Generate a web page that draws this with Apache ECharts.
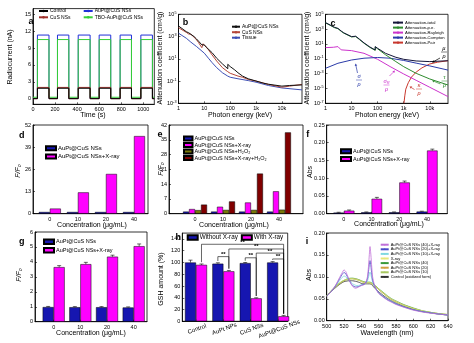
<!DOCTYPE html>
<html>
<head>
<meta charset="utf-8">
<script src="https://cdn.jsdelivr.net/npm/echarts@6.0.0/dist/echarts.min.js"></script>
<style>
html,body{margin:0;padding:0;background:#fff;}
#chart{width:474px;height:343px;}
</style>
</head>
<body>
<div id="chart"></div>
<script>
// ================= DATA =================
// (a) Radiocurrent: X-ray on/off switching times (s) and current levels (nA)
const aOnStart = [40, 222, 410, 600, 790, 978];
const aOnEnd   = [145, 325, 518, 705, 893, 1083];
const aNames   = ['AuPt@CuS NSs', 'TBO-AuPt@CuS NSs', 'CuS NSs', 'Control'];
const aOffLevel = [0.05, 0.25, 0.0, 0.0];
const aOnLevel  = [11.3, 10.5, 2.0, 1.85];
const aTimeEnd = 1100;
const aYTicks = [0, 3, 6, 9, 12, 15];
const aXTicks = [0, 200, 400, 600, 800, 1000];

// (b) Attenuation coefficient (cm2/g) vs photon energy (keV)
const bAuPtE = [1,1.5,2,2.2,2.2,2.5,3,3.4,3.4,4,5,6,8,8.98,8.98,10,11.9,11.9,14,20,30,50,80.7,80.7,100,150,200,300,500,1000,2000,3000,5000,10000,20000,60000];
const bAuPtV = [8900,4500,2750,2400,2800,2150,1600,1320,1580,1000,600,380,178,132,224,178,112,158,112,35,11.2,3.5,1.26,3.2,2.0,1.0,0.56,0.28,0.16,0.1,0.063,0.052,0.044,0.035,0.04,0.045];
const bCuSE = [1,1.5,2,2.47,2.47,3,4,5,6,8,8.98,8.98,10,14,20,30,50,80,100,200,300,500,1000,3000,10000,20000,60000];
const bCuSV = [6300,3550,2400,1700,2240,1580,890,500,280,100,71,224,178,71,22,6.3,1.6,0.7,0.5,0.28,0.22,0.14,0.1,0.05,0.028,0.035,0.05];
const bTisE = [1,2,3,5,10,15,20,30,50,80,100,200,500,1000,3000,10000,60000];
const bTisV = [2000,710,316,126,32,10,4.5,1.6,0.56,0.28,0.22,0.16,0.11,0.079,0.04,0.024,0.016];
const logYTicksB = [1e-3, 1e-1, 10, 1e3, 1e5];
const logXTicks = [1, 10, 100, 1000, 10000];

// (c) Attenuation components of Au
const cTotE = [1,1.5,2.2,2.2,2.5,3,3.4,3.4,4,5,10,11.9,11.9,14.4,20,30,50,80.7,80.7,100,200,500,1000,3000,10000,50000];
const cTotV = [7600,3630,1780,2240,1780,1260,1000,1260,560,320,98,63,158,110,45,14,4,1.55,4.4,2.6,0.55,0.16,0.085,0.051,0.042,0.055];
const cPeE = [1,1.5,2.2,2.2,2.5,3,3.4,3.4,4,5,10,11.9,11.9,14.4,20,30,50,80.7,80.7,100,200,500,1000,3000,10000,50000];
const cPeV = [7000,3300,1600,2050,1620,1150,900,1150,500,290,88,57,145,100,40,12.5,3.5,1.35,4.0,2.2,0.35,0.042,0.0087,0.0011,1.9e-4,2.95e-5];
const cRayE = [1,2,3,3.5,4,10,30,100,300,1000,3000,10000,50000];
const cRayV = [3.2,3.6,4.4,4.4,1.6,1.26,0.55,0.085,0.009,9e-4,1.26e-4,1.45e-5,8e-7];
const cComE = [1,3,10,30,100,300,1000,3000,10000,50000];
const cComV = [0.0052,0.025,0.069,0.12,0.15,0.12,0.06,0.026,0.011,0.003];
const cPairE = [1022,1100,1200,1500,2000,3000,5000,10000,20000,50000];
const cPairV = [1e-7,1e-6,8e-6,6e-5,3.5e-4,1.6e-3,6e-3,0.02,0.035,0.055];
const logYTicksC = [1e-7, 1e-5, 1e-3, 1e-1, 10, 1e3, 1e5];

// (d)-(g) concentration series
const concCats = ['0', '10', '20', '40'];
const dBlue = [1.0, 1.0, 1.0, 1.0];
const dMag  = [3.0, 12.5, 23.3, 45.5];
const eBlue  = [1.0, 1.0, 1.0, 1.0];
const eMag   = [2.2, 3.3, 5.3, 10.6];
const eOlive = [1.7, 1.8, 1.8, 1.9];
const eRed   = [4.3, 5.8, 19.0, 38.5];
const fBlue = [0.003, 0.004, 0.004, 0.006];
const fBlueErr = [0.001, 0.001, 0.001, 0.001];
const fMag = [0.0085, 0.042, 0.088, 0.178];
const fMagErr = [0.002, 0.004, 0.004, 0.004];
const gBlue = [0.98, 0.97, 0.97, 0.95];
const gBlueErr = [0.04, 0.04, 0.04, 0.04];
const gMag = [3.65, 3.85, 4.35, 5.05];
const gMagErr = [0.10, 0.12, 0.10, 0.15];

// (h) GSH amount (%)
const hCats = ['Control', 'AuPt NPs', 'CuS NSs', 'AuPt@CuS NSs'];
const hWithout = [100, 98, 99, 100];
const hWithoutErr = [4, 1.5, 1, 1.5];
const hWith = [96, 85, 39, 8.5];
const hWithErr = [1.5, 1.5, 1, 1.5];
const hYTicks = [0, 20, 40, 60, 80, 100, 120, 140];
// significance brackets: [fromCat, fromBar(0=without,1=with), toCat, toBar, level(%)]
const hSig = [[0,1,3,1,131],[1,1,3,1,123],[2,1,3,1,116],[1,0,1,1,110],[2,0,2,1,108],[3,0,3,1,106]];

// (i) absorbance spectra
const iWl = [500,505,510,515,518,520,522,525,528,530,533,535,538,540,543,545,547,548,549,550,551,552,553,555,558,560,565,570,575,580,590,600,610,620,630,640];
const i40X = [0.056,0.066,0.080,0.099,0.110,0.116,0.112,0.098,0.084,0.078,0.074,0.075,0.078,0.080,0.082,0.086,0.100,0.118,0.145,0.169,0.150,0.122,0.100,0.082,0.068,0.062,0.054,0.047,0.042,0.037,0.030,0.024,0.020,0.017,0.015,0.013];
const i20X = [0.056,0.066,0.079,0.096,0.106,0.110,0.107,0.096,0.085,0.080,0.077,0.077,0.079,0.081,0.083,0.086,0.096,0.108,0.125,0.137,0.125,0.106,0.092,0.080,0.069,0.063,0.055,0.048,0.043,0.038,0.031,0.025,0.021,0.018,0.015,0.013];
const i10X = [0.056,0.066,0.078,0.092,0.099,0.102,0.100,0.094,0.088,0.084,0.081,0.080,0.081,0.082,0.083,0.085,0.090,0.097,0.105,0.111,0.105,0.096,0.088,0.079,0.070,0.064,0.056,0.049,0.044,0.039,0.031,0.025,0.021,0.018,0.015,0.013];
const iXray = [0.057,0.068,0.078,0.086,0.090,0.092,0.094,0.095,0.096,0.096,0.095,0.094,0.092,0.090,0.088,0.087,0.087,0.087,0.087,0.087,0.086,0.085,0.084,0.081,0.076,0.072,0.064,0.056,0.049,0.044,0.035,0.028,0.023,0.019,0.016,0.014];
const i40 = [0.057,0.068,0.078,0.086,0.090,0.092,0.094,0.096,0.097,0.097,0.096,0.095,0.093,0.091,0.089,0.088,0.088,0.088,0.088,0.088,0.087,0.086,0.085,0.082,0.077,0.073,0.065,0.057,0.050,0.045,0.036,0.029,0.023,0.019,0.016,0.014];
const i20 = [0.056,0.067,0.077,0.085,0.089,0.091,0.093,0.095,0.096,0.096,0.095,0.094,0.092,0.090,0.088,0.087,0.087,0.087,0.087,0.086,0.086,0.085,0.084,0.080,0.075,0.071,0.063,0.055,0.048,0.043,0.035,0.028,0.022,0.019,0.016,0.014];
const i10 = [0.056,0.067,0.077,0.085,0.089,0.091,0.093,0.094,0.095,0.095,0.094,0.093,0.091,0.089,0.087,0.086,0.086,0.086,0.086,0.086,0.085,0.084,0.083,0.080,0.075,0.071,0.063,0.055,0.048,0.043,0.034,0.028,0.022,0.018,0.015,0.013];
const iCtrl = [0.056,0.066,0.075,0.083,0.087,0.089,0.090,0.091,0.091,0.091,0.090,0.089,0.087,0.085,0.084,0.084,0.084,0.084,0.084,0.084,0.083,0.082,0.080,0.075,0.070,0.066,0.058,0.051,0.045,0.040,0.032,0.026,0.021,0.018,0.015,0.013];

// ================= LAYOUT / STYLE =================
const FF = "'Liberation Sans', Arial, sans-serif";
const TF = 5.5;
const BLUE = '#1616b0', MAG = '#ff00ff', OLIVE = '#7a7a08', DRED = '#800000';
const R = { // plot rectangles [x1,y1,x2,y2]
  a: [33, 8.6, 154.3, 104.3],
  b: [178.5, 14.3, 302, 103.3],
  c: [325.5, 14.3, 448, 103.3],
  d: [33, 125, 148, 213.7],
  e: [169, 125, 303, 213.7],
  f: [326.7, 125, 447.3, 213.7],
  g: [35, 232, 147, 321.7],
  h: [182.3, 233.1, 287.7, 321.3],
  i: [326.7, 233, 448, 320.7]
};
const order = ['a','b','c','d','e','f','g','h','i'];
const grids = order.map(k => {
  const [x1,y1,x2,y2] = R[k];
  return {left:x1, top:y1, width:x2-x1, height:y2-y1, show:true, borderColor:'#000', borderWidth:0.8,
          backgroundColor:'rgba(0,0,0,0)', containLabel:false, outerBoundsMode:'none'};
});

function axis(gi, o) {
  const ax = {
    type: o.type || 'value', gridIndex: gi, min: o.min, max: o.max,
    axisLine: {show:true, onZero:false, lineStyle:{color:'#000', width:0.8}},
    axisTick: {show:true, inside:true, length:2, lineStyle:{color:'#000', width:0.6}},
    axisLabel: {show:true, color:'#000', fontSize:TF, fontFamily:FF, margin:2, formatter: v => String(v)},
    splitLine: {show:false}, minorTick: {show:false}
  };
  if (o.logBase) ax.logBase = o.logBase;
  if (o.interval != null) ax.interval = o.interval;
  if (o.custom) { ax.axisLabel.customValues = o.custom; ax.axisTick.customValues = o.custom; }
  if (o.fmt) ax.axisLabel.formatter = o.fmt;
  if (o.rich) ax.axisLabel.rich = o.rich;
  if (o.label) Object.assign(ax.axisLabel, o.label);
  return ax;
}
const kFmt = v => { const e = Math.round(Math.log10(v)); return ['1','10','100','1k','10k','100k'][e] || ''; };
const powFmt = v => '10{s|' + Math.round(Math.log10(v)) + '}';
const powRich = {s:{fontSize:3.8, fontFamily:FF, color:'#000', verticalAlign:'top', padding:[0,0,3,0]}};
const catFmt = cats => v => cats[Math.round(v)];
const fix2 = v => v.toFixed(2);
const barIdx = [0,1,2,3];

const xAxes = [
  axis(0, {min:0, max:aTimeEnd, custom:aXTicks}),
  axis(1, {type:'log', logBase:10, min:1, max:60000, custom:logXTicks, fmt:kFmt}),
  axis(2, {type:'log', logBase:10, min:1, max:50000, custom:logXTicks, fmt:kFmt}),
  axis(3, {min:-0.6, max:3.5, custom:barIdx, fmt:catFmt(concCats)}),
  axis(4, {min:-0.93, max:3.86, custom:barIdx, fmt:catFmt(concCats)}),
  axis(5, {min:-0.62, max:3.73, custom:barIdx, fmt:catFmt(concCats)}),
  axis(6, {min:-0.7, max:3.5, custom:barIdx, fmt:catFmt(concCats)}),
  axis(7, {min:-0.5, max:3.35, custom:barIdx, fmt:catFmt(hCats), label:{rotate:20, align:'center', verticalAlign:'top', margin:5, fontSize:6}}),
  axis(8, {min:500, max:640, interval:20})
];
const yAxes = [
  axis(0, {min:-1, max:16, custom:aYTicks}),
  axis(1, {type:'log', logBase:10, min:1e-3, max:1e5, custom:logYTicksB, fmt:powFmt, rich:powRich}),
  axis(2, {type:'log', logBase:10, min:1e-7, max:1e5, custom:logYTicksC, fmt:powFmt, rich:powRich}),
  axis(3, {min:0, max:52, interval:13}),
  axis(4, {min:0, max:42, interval:7}),
  axis(5, {min:0, max:0.25, interval:0.05, fmt:fix2}),
  axis(6, {min:0, max:6, interval:1}),
  axis(7, {min:0, max:150, custom:hYTicks}),
  axis(8, {min:0, max:0.2, interval:0.05, fmt:fix2})
];
xAxes.forEach(a => a.axisLabel.margin = (a.axisLabel.margin === 2 ? 2.5 : a.axisLabel.margin));

// ================= SERIES =================
const series = [];
function lineS(name, ax, data, color, w, extra) {
  series.push(Object.assign({name, type:'line', xAxisIndex:ax, yAxisIndex:ax, data, symbol:'none',
    lineStyle:{color, width:w}, itemStyle:{color}, animation:false, clip:true}, extra || {}));
}
function pairs(xs, ys) { return xs.map((x, i) => [x, ys[i]]); }

// (a) step waves
function squareWave(off, on) {
  const pts = [[0, off]];
  for (let k = 0; k < aOnStart.length; k++) {
    pts.push([aOnStart[k], off], [aOnStart[k], on], [aOnEnd[k], on], [aOnEnd[k], off]);
  }
  pts.push([aTimeEnd, off]);
  return pts;
}
const aColors = ['#2030d8', '#36d036', '#a0302a', '#000000'];
aNames.forEach((n, k) => lineS('a::' + n, 0, squareWave(aOffLevel[k], aOnLevel[k]), aColors[k], 1));

// (b)
lineS('b::Tissue', 1, pairs(bTisE, bTisV), '#3d4fb5', 1);
lineS('b::CuS NSs', 1, pairs(bCuSE, bCuSV), '#b5473a', 1);
lineS('b::AuPt@CuS NSs', 1, pairs(bAuPtE, bAuPtV), '#111111', 1);

// (c)
lineS('c::Attenuation-Pair', 2, pairs(cPairE, cPairV), '#c8372d', 1);
lineS('c::Attenuation-Rayleigh', 2, pairs(cRayE, cRayV), '#cc33cc', 1);
lineS('c::Attenuation-Compton', 2, pairs(cComE, cComV), '#2a3aa8', 1);
lineS('c::Attenuation-p.e.', 2, pairs(cPeE, cPeV), '#2e8b2e', 1);
lineS('c::Attenuation-total', 2, pairs(cTotE, cTotV), '#15153a', 1);

// bars
function barS(name, ax, vals, color, w) {
  series.push({name, type:'bar', xAxisIndex:ax, yAxisIndex:ax, data: vals.map((v, i) => [i, v]),
    barWidth:w, barGap:'0%', itemStyle:{color, borderColor:'#000', borderWidth:0.5}, animation:false});
}
function errS(ax, vals, errs, off) {
  series.push({type:'custom', xAxisIndex:ax, yAxisIndex:ax, z:5, silent:true, animation:false,
    data: vals.map((v, i) => [i, v, errs[i]]), encode:{x:0, y:1},
    renderItem: (p, api) => {
      const i = api.value(0), v = api.value(1), e = api.value(2);
      const top = api.coord([i, v + e]), base = api.coord([i, v]);
      const x = top[0] + off;
      return {type:'group', children:[
        {type:'line', shape:{x1:x, y1:base[1], x2:x, y2:top[1]}, style:{stroke:'#000', lineWidth:0.6}},
        {type:'line', shape:{x1:x-2, y1:top[1], x2:x+2, y2:top[1]}, style:{stroke:'#000', lineWidth:0.6}}
      ]};
    }});
}
// (d)
barS('d::AuPt@CuS NSs', 3, dBlue, BLUE, 11);
barS('d::AuPt@CuS NSs+X-ray', 3, dMag, MAG, 11);
// (e)
barS('e::AuPt@CuS NSs', 4, eBlue, BLUE, 6);
barS('e::AuPt@CuS NSs+X-ray', 4, eMag, MAG, 6);
barS('e::AuPt@CuS NSs+H₂O₂', 4, eOlive, OLIVE, 6);
barS('e::AuPt@CuS NSs+X-ray+H₂O₂', 4, eRed, DRED, 6);
// (f)
barS('f::AuPt@CuS NSs', 5, fBlue, BLUE, 10.5);
barS('f::AuPt@CuS NSs+X-ray', 5, fMag, MAG, 10.5);
errS(5, fBlue, fBlueErr, -5.25);
errS(5, fMag, fMagErr, 5.25);
// (g)
barS('g::AuPt@CuS NSs', 6, gBlue, BLUE, 11);
barS('g::AuPt@CuS NSs+X-ray', 6, gMag, MAG, 11);
errS(6, gBlue, gBlueErr, -5.5);
errS(6, gMag, gMagErr, 5.5);
// (h)
const hBW = 11;
barS('h::Without X-ray', 7, hWithout, BLUE, hBW);
barS('h::With X-ray', 7, hWith, MAG, hBW);
errS(7, hWithout, hWithoutErr, -hBW/2);
errS(7, hWith, hWithErr, hBW/2);
// (i)
const iSeries = [
  ['AuPt@CuS NSs (40)+X-ray', i40X, '#c070d8'],
  ['AuPt@CuS NSs (20)+X-ray', i20X, '#4a4ac8'],
  ['AuPt@CuS NSs (10)+X-ray', i10X, '#80d8e0'],
  ['X-ray', iXray, '#e6e67a'],
  ['AuPt@CuS NSs (40)', i40, '#3a9a3a'],
  ['AuPt@CuS NSs (20)', i20, '#d0a040'],
  ['AuPt@CuS NSs (10)', i10, '#a8c860'],
  ['Control (oxidized form)', iCtrl, '#303030']
];
iSeries.slice().reverse().forEach(s => lineS('i::' + s[0], 8, pairs(iWl, s[1]), s[2], 0.8, {smooth:0.2}));

// ================= LEGENDS =================
function leg(names, left, top, o) {
  return Object.assign({
    data: names, left, top, orient:'vertical', padding:0, selectedMode:false,
    itemWidth:o.iw, itemHeight:o.ih, itemGap:o.gap,
    formatter: n => n.split('::')[1],
    textStyle:{fontSize:o.fs, fontFamily:FF, color:'#000', padding:[0,0,0,o.tp || -3]},
    icon: o.icon
  }, o.extra || {});
}
const legends = [
  leg(['a::Control','a::CuS NSs'], 38, 8.5, {iw:9, ih:3, gap:1.3, fs:5}),
  leg(['a::AuPt@CuS NSs','a::TBO-AuPt@CuS NSs'], 82.7, 8.5, {iw:9, ih:3, gap:1.3, fs:5}),
  leg(['b::AuPt@CuS NSs','b::CuS NSs','b::Tissue'], 231, 24.2, {iw:8, ih:3, gap:0.5, fs:5}),
  leg(['c::Attenuation-total','c::Attenuation-p.e.','c::Attenuation-Rayleigh','c::Attenuation-Compton','c::Attenuation-Pair'], 392, 20.6, {iw:10, ih:3, gap:1, fs:4.2}),
  leg(['d::AuPt@CuS NSs','d::AuPt@CuS NSs+X-ray'], 45, 145.3, {iw:10, ih:4, gap:2.3, fs:6, icon:'rect'}),
  leg(['e::AuPt@CuS NSs','e::AuPt@CuS NSs+X-ray','e::AuPt@CuS NSs+H₂O₂','e::AuPt@CuS NSs+X-ray+H₂O₂'], 183, 135.5, {iw:8.5, ih:4, gap:0.5, fs:5.5, icon:'rect'}),
  leg(['f::AuPt@CuS NSs','f::AuPt@CuS NSs+X-ray'], 340, 148.2, {iw:10, ih:4, gap:1.8, fs:5.5, icon:'rect'}),
  leg(['g::AuPt@CuS NSs','g::AuPt@CuS NSs+X-ray'], 43, 238.5, {iw:10, ih:4.5, gap:1.9, fs:5.5, icon:'rect'}),
  leg(['h::Without X-ray','h::With X-ray'], 186.7, 234.2, {iw:10, ih:4.5, gap:3, fs:6.3, icon:'rect', extra:{orient:'horizontal'}}),
  leg(iSeries.map(s => 'i::' + s[0]), 379.7, 242.7, {iw:8, ih:2, gap:0.6, fs:4})
];

const chart = echarts.init(document.getElementById('chart'), null, {renderer:'canvas'});
chart.setOption({
  animation:false, backgroundColor:'#fff',
  textStyle:{fontFamily:FF},
  grid:grids, xAxis:xAxes, yAxis:yAxes, legend:legends, series
});

// ================= ANNOTATIONS =================
const G = [];
function txt(t, x, y, o) {
  o = o || {};
  G.push({type:'text', x, y, rotation:o.rot ? Math.PI/2 : 0, silent:true, z:50,
    style:{text:t, fill:o.color || '#000', fontSize:o.fs || 7, fontFamily:o.ff || FF,
      fontWeight:o.fw || 'normal', fontStyle:o.it ? 'italic' : 'normal',
      align:o.align || 'center', verticalAlign:o.va || 'middle', rich:o.rich}});
}
// axis titles
[
  ['Radiocurrent (nA)', 10, 57, 1], ['Time (s)', 93, 115, 0],
  ['Attenuation coefficient (cm²/g)', 160.5, 58, 1], ['Photon energy (keV)', 240, 115.5, 0],
  ['Attenuation coefficient (cm²/g)', 307.5, 58, 1], ['Photon energy (keV)', 387, 115.5, 0],
  ['Concentration (μg/mL)', 92, 225.3, 0], ['Concentration (μg/mL)', 234, 225.3, 0],
  ['Abs', 310, 172, 1], ['Concentration (μg/mL)', 389, 224.5, 0],
  ['Concentration (μg/mL)', 91, 333, 0], ['GSH amount (%)', 161, 279, 1],
  ['Abs', 309.5, 275, 1], ['Wavelength (nm)', 387, 333.5, 0]
].forEach(t => txt(t[0], t[1], t[2], {rot:t[3]}));
[[18, 171], [161.5, 169], [19, 275]].forEach(p => txt('F/F₀', p[0], p[1], {rot:1, it:1}));
// panel letters
[['a',31,22],['b',185.5,23],['c',333,23.3],['d',21.7,136],['e',160,135],['f',307.7,135],['g',21.7,242],['h',178.3,238],['i',307,241.5]]
  .forEach(l => txt(l[0], l[1], l[2], {fw:'bold', fs:9}));

// panel c fraction labels and arrows
function frac(x, y, num, color, rich) {
  G.push({type:'text', x, y:y-0.5, silent:true, z:50, style:{text:num, fill:color, fontSize:6.5, fontStyle:'italic', fontFamily:"'Liberation Serif', serif", align:'center', verticalAlign:'bottom', rich}});
  G.push({type:'line', silent:true, z:50, shape:{x1:x-3, y1:y, x2:x+3, y2:y}, style:{stroke:color, lineWidth:0.5}});
  G.push({type:'text', x, y:y+0.5, silent:true, z:50, style:{text:'ρ', fill:color, fontSize:6.5, fontStyle:'italic', fontFamily:"'Liberation Serif', serif", align:'center', verticalAlign:'top'}});
}
function arrow(x1, y1, x2, y2, color) {
  const a = Math.atan2(y2-y1, x2-x1), h = 2.4, w = 1.3;
  const bx = x2 - h*Math.cos(a), by = y2 - h*Math.sin(a);
  const px = -Math.sin(a)*w, py = Math.cos(a)*w;
  G.push({type:'line', silent:true, z:50, shape:{x1, y1, x2:bx, y2:by}, style:{stroke:color, lineWidth:0.7}});
  G.push({type:'polygon', silent:true, z:50, shape:{points:[[x2,y2],[bx+px,by+py],[bx-px,by-py]]}, style:{fill:color}});
}
frac(444, 52, 'μ', '#000');         arrow(440, 58, 432, 62.5, '#000');
frac(444.5, 81, 'τ', '#2e8b2e');    arrow(440.5, 84, 432, 80.5, '#2e8b2e');
frac(359, 80, 'σ', '#2a3aa8');      arrow(357.5, 73, 355.5, 63.5, '#2a3aa8');
frac(386.5, 85, '{m|σ}{r|R}', '#cc33cc', {m:{fontSize:6.5, fontStyle:'italic', fontFamily:"'Liberation Serif', serif", fill:'#cc33cc'}, r:{fontSize:4, fontStyle:'italic', fill:'#cc33cc', verticalAlign:'bottom'}});
arrow(389.5, 76, 395, 70.5, '#cc33cc');
frac(419, 89, 'κ', '#c8372d');      arrow(414.5, 89.5, 409.5, 86.5, '#c8372d');

// panel h significance brackets (positions through the chart's own axis mapping)
const hPx = (x, y) => chart.convertToPixel({gridIndex:7}, [x, y]);
const hBarX = (cat, bar) => hPx(cat, 0)[0] + (bar ? hBW/2 : -hBW/2);
const hTop = (cat, bar) => bar ? hWith[cat] + hWithErr[cat] : hWithout[cat] + hWithoutErr[cat];
hSig.forEach(s => {
  const x1 = hBarX(s[0], s[1]), x2 = hBarX(s[2], s[3]);
  const yl = hPx(0, s[4])[1];
  const d1 = hPx(0, hTop(s[0], s[1]) + 3)[1], d2 = hPx(0, hTop(s[2], s[3]) + 3)[1];
  G.push({type:'polyline', silent:true, z:50, shape:{points:[[x1,d1],[x1,yl],[x2,yl],[x2,d2]]}, style:{stroke:'#000', lineWidth:0.6, fill:null}});
  G.push({type:'text', silent:true, z:50, x:(x1+x2)/2, y:yl+0.8, style:{text:'**', fill:'#000', fontSize:6, fontWeight:'bold', fontFamily:FF, align:'center', verticalAlign:'bottom'}});
});

chart.setOption({graphic:{elements:G}});
</script>
</body>
</html>
